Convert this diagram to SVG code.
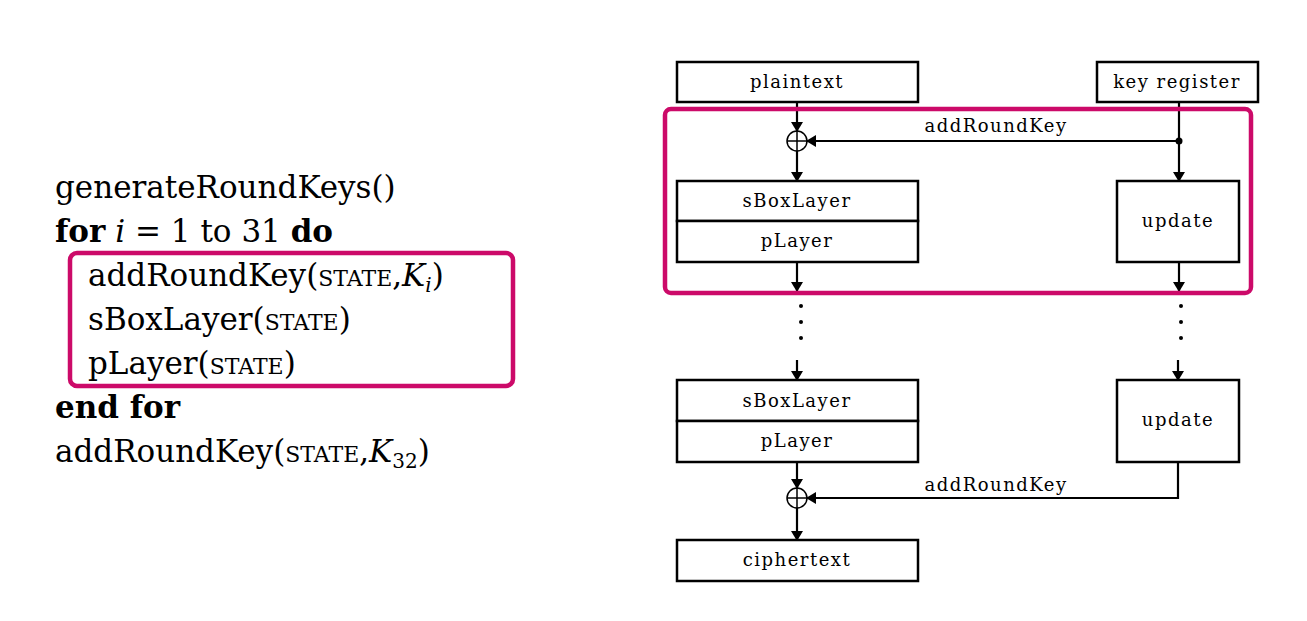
<svg xmlns="http://www.w3.org/2000/svg" width="1307" height="621" viewBox="0 0 1307 621">
<style>
.b{fill:#fff;stroke:#000;stroke-width:2.5}
.t{font-family:"DejaVu Serif",serif;font-size:18px;letter-spacing:1.5px;text-anchor:middle}
.c{stroke:#000;stroke-width:2.2;fill:none}
.l{font-family:"DejaVu Serif",serif;font-size:31px}
.sc{font-size:22px}
.pk{fill:none;stroke:#cc0a69;stroke-width:4.5}
</style>
<defs><marker id="a" markerWidth="10" markerHeight="12" refX="9" refY="6" orient="auto" markerUnits="userSpaceOnUse"><path d="M0,0L10,6L0,12z" fill="#000"/></marker></defs>
<g id="pseudocode">
<text class="l" x="55" y="198">generateRoundKeys()</text>
<text class="l" x="55" y="242"><tspan font-weight="bold">for</tspan> <tspan font-style="italic">i</tspan> = 1 to 31 <tspan font-weight="bold">do</tspan></text>
<text class="l" x="88" y="286">addRoundKey(<tspan class="sc">STATE</tspan>,<tspan font-style="italic">K</tspan><tspan font-size="20" font-style="italic" dy="6">i</tspan><tspan dy="-6">)</tspan></text>
<text class="l" x="88" y="330">sBoxLayer(<tspan class="sc">STATE</tspan>)</text>
<text class="l" x="88" y="374">pLayer(<tspan class="sc">STATE</tspan>)</text>
<text class="l" x="55" y="418" font-weight="bold">end for</text>
<text class="l" x="55" y="462">addRoundKey(<tspan class="sc">STATE</tspan>,<tspan font-style="italic">K</tspan><tspan font-size="20" dy="6">32</tspan><tspan dy="-6">)</tspan></text>
<rect class="pk" x="70" y="253" width="443" height="133" rx="7"/>
</g>
<g id="plaintext"><rect class="b" x="677" y="62" width="241" height="40"/><text class="t" x="797" y="88">plaintext</text></g>
<g id="keyreg"><rect class="b" x="1097" y="62" width="161" height="40"/><text class="t" x="1177" y="88">key register</text></g>
<g id="round1"><rect class="b" x="677" y="181" width="241" height="40"/><text class="t" x="797" y="207">sBoxLayer</text>
<rect class="b" x="677" y="221" width="241" height="41"/><text class="t" x="797" y="247">pLayer</text></g>
<g id="update1"><rect class="b" x="1117" y="181" width="122" height="81"/><text class="t" x="1178" y="227">update</text></g>
<g id="round2"><rect class="b" x="677" y="380" width="241" height="41"/><text class="t" x="797" y="407">sBoxLayer</text>
<rect class="b" x="677" y="421" width="241" height="41"/><text class="t" x="797" y="447">pLayer</text></g>
<g id="update2"><rect class="b" x="1117" y="380" width="122" height="82"/><text class="t" x="1178" y="426">update</text></g>
<g id="ciphertext"><rect class="b" x="677" y="540" width="241" height="41"/><text class="t" x="797" y="566">ciphertext</text></g>
<g id="connectors">
<path class="c" d="M797,102V131" marker-end="url(#a)"/>
<circle cx="797" cy="141" r="10" fill="none" stroke="#000" stroke-width="1.5"/>
<path d="M787,141H807M797,131V151" stroke="#000" stroke-width="1.5"/>
<path class="c" d="M797,151V181" marker-end="url(#a)"/>
<path class="c" d="M1179,102V181" marker-end="url(#a)"/>
<circle cx="1179" cy="141" r="3.5"/>
<path class="c" d="M1179,141H807" marker-end="url(#a)"/>
<text class="t" x="996" y="132">addRoundKey</text>
<path class="c" d="M797,262V291" marker-end="url(#a)"/>
<path class="c" d="M1179,262V291" marker-end="url(#a)"/>
<g fill="#000"><circle cx="801" cy="306" r="2"/><circle cx="801" cy="322" r="2"/><circle cx="801" cy="338" r="2"/><circle cx="1181" cy="306" r="2"/><circle cx="1181" cy="322" r="2"/><circle cx="1181" cy="338" r="2"/></g>
<path class="c" d="M797,360V380" marker-end="url(#a)"/>
<path class="c" d="M1178,360V380" marker-end="url(#a)"/>
<path class="c" d="M797,462V488" marker-end="url(#a)"/>
<circle cx="797" cy="498" r="10" fill="none" stroke="#000" stroke-width="1.5"/>
<path d="M787,498H807M797,488V508" stroke="#000" stroke-width="1.5"/>
<path class="c" d="M797,508V540" marker-end="url(#a)"/>
<path class="c" d="M1178,462V498H807" marker-end="url(#a)"/>
<text class="t" x="996" y="491">addRoundKey</text>
</g>
<rect class="pk" x="665" y="109" width="586" height="184" rx="6"/>
</svg>
